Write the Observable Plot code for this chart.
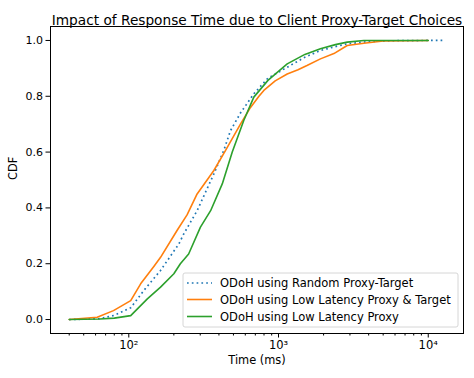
<!DOCTYPE html>
<html><head><meta charset="utf-8">
<script src="https://cdn.jsdelivr.net/npm/d3@7"></script>
<script src="https://cdn.jsdelivr.net/npm/@observablehq/plot@0.6"></script>
<style>
body{margin:0;background:#fff}
svg{font-family:"DejaVu Sans",sans-serif}
</style>
</head><body><div id="chart"></div>
<script>
const title = "Impact of Response Time due to Client Proxy-Target Choices";
const xLabel = "Time (ms)";
const yLabel = "CDF";
const seriesNames = [
  "ODoH using Random Proxy-Target",
  "ODoH using Low Latency Proxy & Target",
  "ODoH using Low Latency Proxy"
];
const seriesColors = ["#1f77b4", "#ff7f0e", "#2ca02c"];

const randomTime = [40, 64, 80, 103, 126, 163, 216, 233, 286, 370, 431, 478, 557, 684, 850, 1143, 1500, 1905, 2400, 2877, 4000, 6000, 10000, 12900];
const randomCdf  = [0, 0.003, 0.015, 0.042, 0.104, 0.176, 0.271, 0.307, 0.39, 0.522, 0.606, 0.677, 0.74, 0.809, 0.865, 0.904, 0.94, 0.964, 0.978, 0.988, 0.996, 0.999, 1, 1];

const lowBothTime = [40, 61.5, 79, 103, 120, 147, 163, 210, 245, 286, 370, 443, 557, 650, 740, 798, 950, 1143, 1350, 1549, 1905, 2344, 2877, 3715, 5000, 10000];
const lowBothCdf  = [0, 0.008, 0.032, 0.068, 0.128, 0.19, 0.223, 0.319, 0.375, 0.45, 0.534, 0.606, 0.700, 0.76, 0.80, 0.821, 0.855, 0.88, 0.895, 0.91, 0.934, 0.953, 0.982, 0.99, 0.998, 1];

const lowProxyTime = [40, 64, 80, 103, 133, 163, 200, 221, 251, 301, 352, 421, 491, 586, 684, 850, 1143, 1500, 1905, 2400, 2877, 3715, 10000];
const lowProxyCdf  = [0, 0.002, 0.005, 0.014, 0.074, 0.116, 0.164, 0.2, 0.235, 0.331, 0.39, 0.486, 0.6, 0.713, 0.797, 0.857, 0.916, 0.95, 0.97, 0.985, 0.994, 1, 1];

const yTicks = [0, 0.2, 0.4, 0.6, 0.8, 1.0];
const xMajorTicks = [100, 1000, 10000];
const xMajorLabels = ["10²", "10³", "10⁴"];
const xMinorTicks = [40, 50, 60, 70, 80, 90, 200, 300, 400, 500, 600, 700, 800, 900, 2000, 3000, 4000, 5000, 6000, 7000, 8000, 9000];

const toRows = (ts, cs, s) => ts.map((t, i) => ({time: t, cdf: cs[i], series: s}));
const rowsRandom = toRows(randomTime, randomCdf, seriesNames[0]);
const rowsLowBoth = toRows(lowBothTime, lowBothCdf, seriesNames[1]);
const rowsLowProxy = toRows(lowProxyTime, lowProxyCdf, seriesNames[2]);

const svg = Plot.plot({
  width: 474,
  height: 378,
  marginTop: 26,
  marginBottom: 45,
  marginLeft: 50,
  marginRight: 11,
  style: {fontFamily: "DejaVu Sans, sans-serif", fontSize: "11px", color: "#000", background: "#fff"},
  x: {type: "log", domain: [30, 17200], label: null},
  y: {domain: [-0.05, 1.05], label: null},
  marks: [
    Plot.line(rowsRandom, {x: "time", y: "cdf", stroke: seriesColors[0], strokeWidth: 1.7, strokeDasharray: "1.7,3.1", strokeLinecap: "butt"}),
    Plot.line(rowsLowBoth, {x: "time", y: "cdf", stroke: seriesColors[1], strokeWidth: 1.6}),
    Plot.line(rowsLowProxy, {x: "time", y: "cdf", stroke: seriesColors[2], strokeWidth: 1.6}),
    Plot.frame({stroke: "#000", strokeWidth: 1}),
    Plot.axisY(yTicks, {tickSize: 4.5, tickPadding: 3, tickFormat: d3.format(".1f"), fontSize: 11, label: null}),
    Plot.axisX(xMajorTicks, {tickSize: 4.5, tickPadding: 3, tickFormat: d => xMajorLabels[xMajorTicks.indexOf(d)], fontSize: 11.5, label: null}),
    Plot.axisX(xMinorTicks, {tickSize: 2.5, tickFormat: () => "", label: null}),
    Plot.text([title], {frameAnchor: "top", dy: -11, fontSize: 13.7, fill: "#000"}),
    Plot.text([xLabel], {frameAnchor: "bottom", dy: 30, fontSize: 11.4, fill: "#000"}),
    Plot.text([yLabel], {frameAnchor: "left", dx: -37, rotate: -90, fontSize: 11.4, fill: "#000"})
  ]
});

// Legend (matplotlib-style, lower right inside the axes)
const lg = d3.select(svg).append("g")
  .attr("font-size", 11.5).attr("font-family", "DejaVu Sans, sans-serif").attr("text-anchor", "start");
lg.append("rect").attr("x", 183).attr("y", 273).attr("width", 275).attr("height", 54)
  .attr("rx", 2).attr("fill", "#fff").attr("fill-opacity", 0.8).attr("stroke", "#ccc").attr("stroke-width", 0.8);
const rowsY = [283, 299.5, 316.5];
seriesNames.forEach((name, i) => {
  const ln = lg.append("line").attr("x1", 187).attr("x2", 212).attr("y1", rowsY[i]).attr("y2", rowsY[i])
    .attr("stroke", seriesColors[i]).attr("stroke-width", 1.6);
  if (i === 0) ln.attr("stroke-dasharray", "1.7,3.1");
  lg.append("text").attr("x", 220).attr("y", rowsY[i]).attr("dy", "0.35em").attr("fill", "#000")
    .attr("text-anchor", "start").text(name);
});

document.getElementById("chart").appendChild(svg);
</script>
</body></html>
